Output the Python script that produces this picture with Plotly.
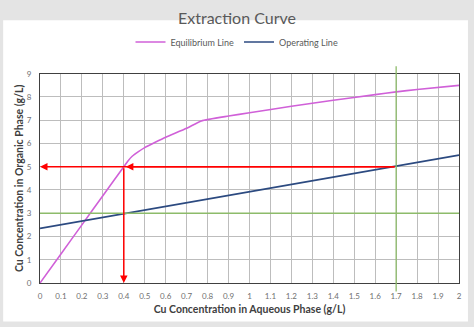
import plotly.graph_objects as go

# Data
eq_x = [0.0, 0.1, 0.2, 0.3, 0.4, 0.42, 0.44, 0.47, 0.5, 0.55, 0.6, 0.7, 0.77, 0.9, 1.0, 1.2, 1.4, 1.6, 1.7, 1.8, 2.0]
eq_y = [0.0, 1.25, 2.5, 3.75, 5.0, 5.25, 5.45, 5.65, 5.82, 6.05, 6.27, 6.65, 6.97, 7.18, 7.32, 7.6, 7.86, 8.1, 8.22, 8.32, 8.5]
op_x = [0.0, 2.0]
op_y = [2.35, 5.5]
x_ticks = [round(i * 0.1, 1) for i in range(21)]
x_labels = ["0", "0.1", "0.2", "0.3", "0.4", "0.5", "0.6", "0.7", "0.8", "0.9", "1",
            "1.1", "1.2", "1.3", "1.4", "1.5", "1.6", "1.7", "1.8", "1.9", "2"]
y_ticks = list(range(10))
raff_x = 0.4
feed_x = 1.7
org_y = 5.0
op_y_at_raff = 3.0

FONT = "Lato, 'Open Sans', sans-serif"
W, H = 474, 327
ml, mr, mt, mb = 40, 13, 60, 44
pw, ph = W - ml - mr, H - mt - mb

def px(xp):
    return (xp - ml) / pw

def py(yp):
    return (H - mb - yp) / ph

fig = go.Figure()
fig.add_trace(go.Scatter(x=eq_x, y=eq_y, mode="lines", name="Equilibrium Line",
                         line=dict(color="#d060d8", width=1.6, shape="spline", smoothing=0.5)))
fig.add_trace(go.Scatter(x=op_x, y=op_y, mode="lines", name="Operating Line",
                         line=dict(color="#2c4a80", width=1.6)))

shapes = [
    dict(type="rect", xref="paper", yref="paper", x0=px(3), x1=px(470), y0=py(324), y1=py(3),
         fillcolor="white", line=dict(width=0), layer="below"),
    dict(type="line", xref="x", yref="y", x0=-0.01, x1=2.01, y0=op_y_at_raff, y1=op_y_at_raff,
         line=dict(color="#8dbb6a", width=1.3)),
    dict(type="line", xref="x", yref="paper", x0=feed_x, x1=feed_x, y0=py(292), y1=py(52),
         line=dict(color="#8dbb6a", width=1.3)),
]

red = "#ff0000"
annotations = [
    dict(x=0, y=org_y, ax=feed_x, ay=org_y, xref="x", yref="y", axref="x", ayref="y",
         showarrow=True, arrowhead=2, arrowsize=1, arrowwidth=1.5, arrowcolor=red, text=""),
    dict(x=raff_x + 0.01, y=org_y, ax=feed_x, ay=org_y, xref="x", yref="y", axref="x", ayref="y",
         showarrow=True, arrowhead=2, arrowsize=1, arrowwidth=1.5, arrowcolor=red, text=""),
    dict(x=raff_x, y=0, ax=raff_x, ay=org_y, xref="x", yref="y", axref="x", ayref="y",
         showarrow=True, arrowhead=2, arrowsize=1, arrowwidth=1.5, arrowcolor=red, text=""),
]

fig.update_layout(
    width=W, height=H,
    margin=dict(l=ml, r=mr, t=mt, b=mb),
    paper_bgcolor="#e4e4e4",
    plot_bgcolor="white",
    font=dict(family=FONT, color="#595959", size=8),
    title=dict(text="Extraction Curve", x=0.5, xref="container", xanchor="center",
               y=1 - 18 / H, yref="container", yanchor="middle",
               font=dict(size=16, color="#595959", family=FONT)),
    legend=dict(orientation="h", x=0.5, xref="container", xanchor="center",
                y=1 - 42 / H, yref="container", yanchor="middle",
                font=dict(size=9, color="#595959"), bgcolor="rgba(0,0,0,0)",
                itemwidth=30, tracegroupgap=0),
    xaxis=dict(range=[0, 2], tickvals=x_ticks, ticktext=x_labels, showgrid=True,
               gridcolor="#bdbdbd", gridwidth=1, showline=True, linecolor="#404040",
               linewidth=1.2, mirror=True, zeroline=False, ticks="",
               ticklabelstandoff=5,
               tickfont=dict(size=8, color="#707070"),
               title=dict(text="<b>Cu Concentration in Aqueous Phase (g/L)</b>",
                          font=dict(size=10.5, color="#404040"), standoff=5)),
    yaxis=dict(range=[0, 9], tickvals=y_ticks, showgrid=True,
               gridcolor="#bdbdbd", gridwidth=1, showline=True, linecolor="#404040",
               linewidth=1.2, mirror=True, zeroline=False, ticks="",
               ticklabelstandoff=6,
               tickfont=dict(size=8, color="#707070"),
               title=dict(text="<b>Cu Concentration in Organic Phase (g/L)</b>",
                          font=dict(size=10.5, color="#404040"), standoff=0)),
    shapes=shapes,
    annotations=annotations,
)

fig.write_html("out.html")
